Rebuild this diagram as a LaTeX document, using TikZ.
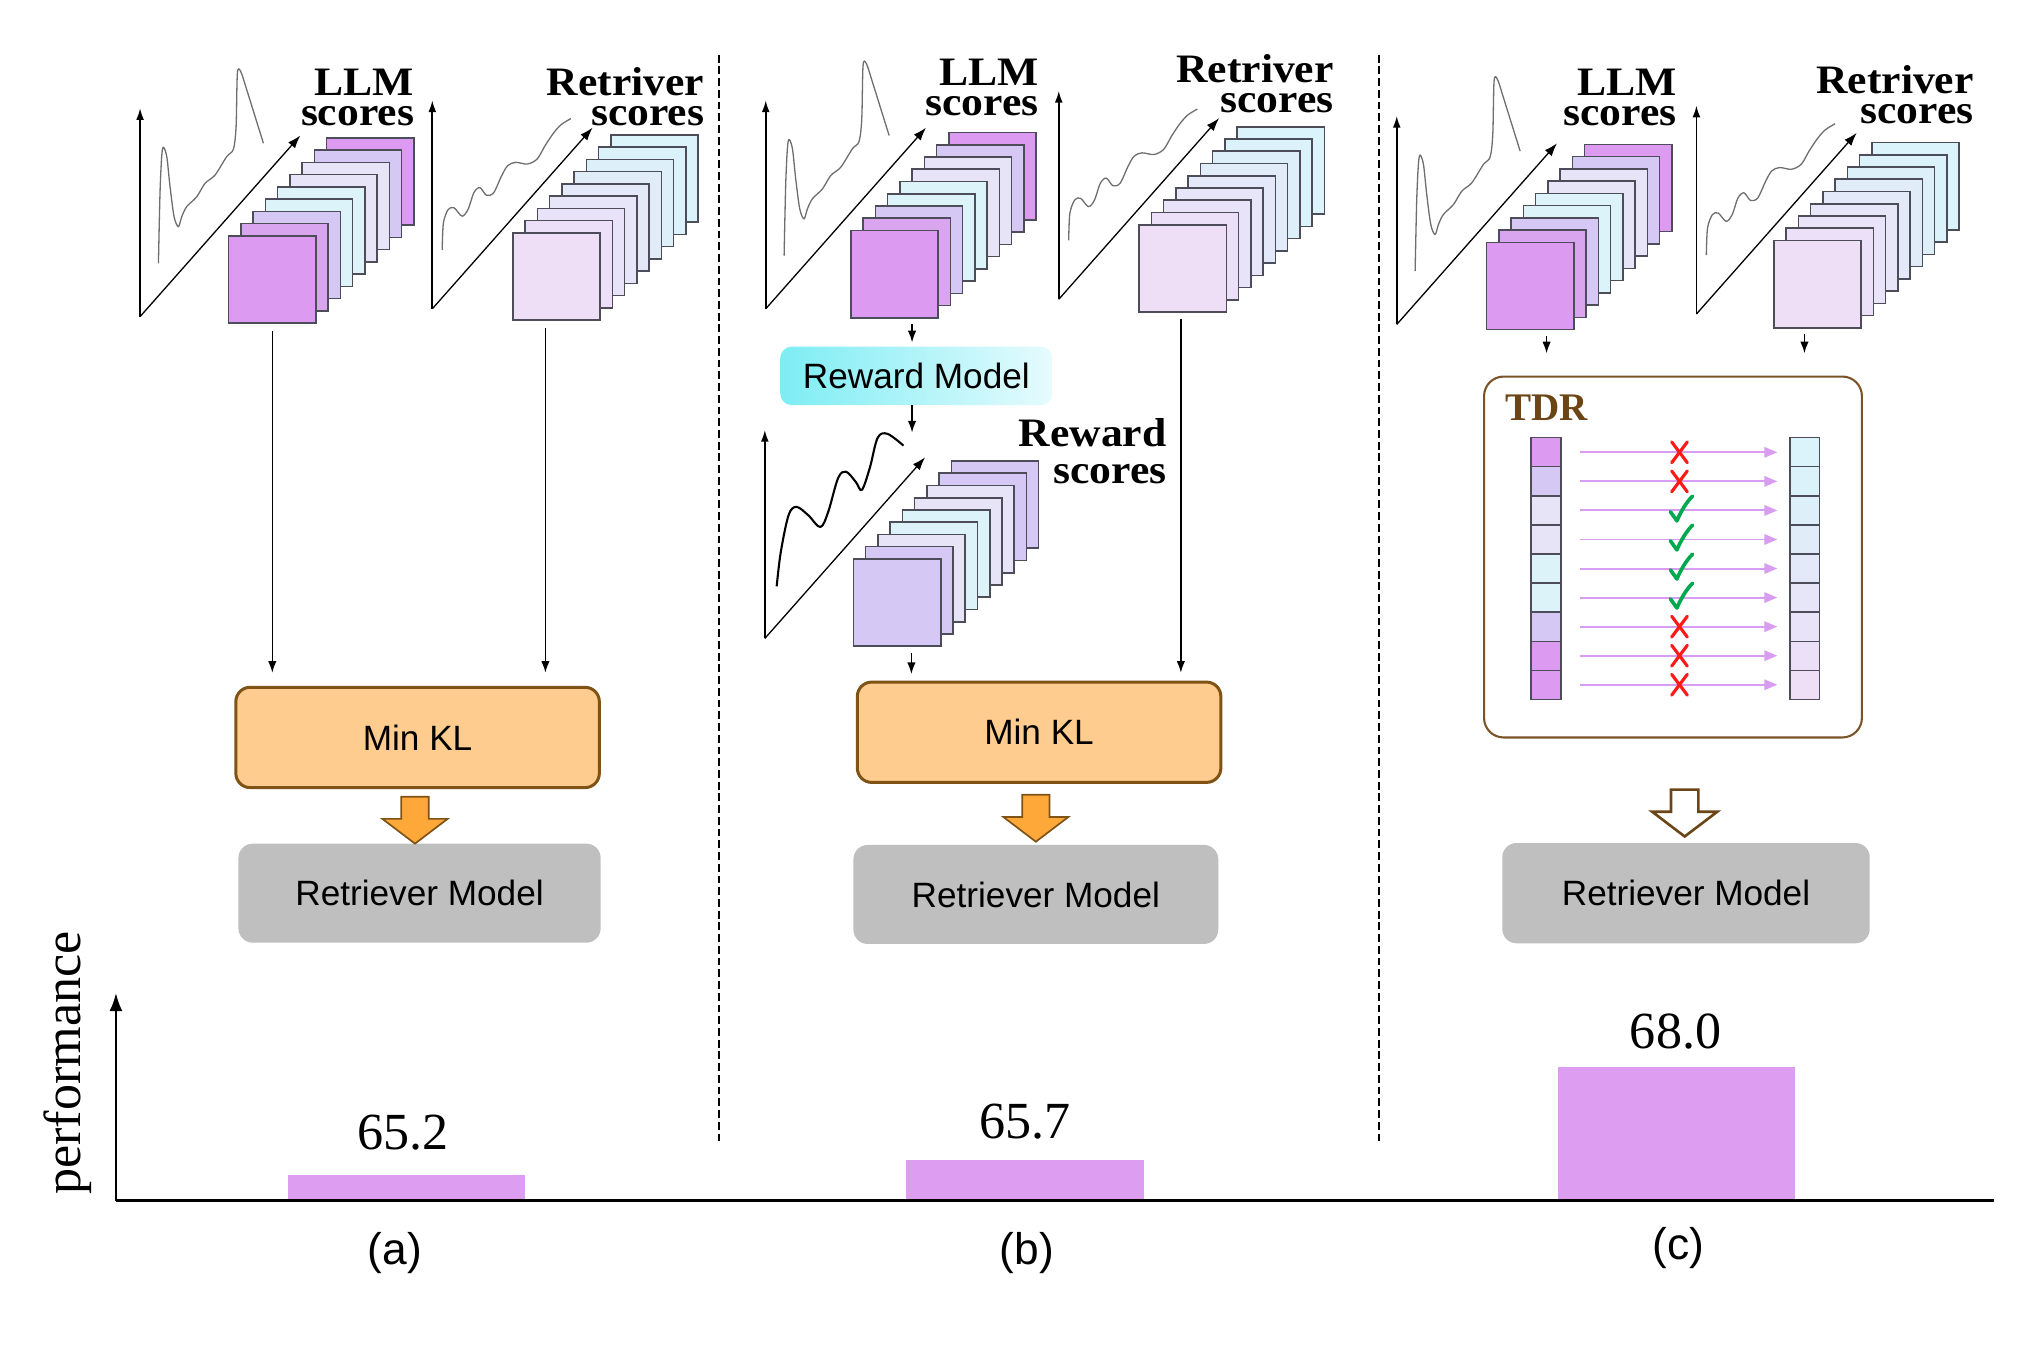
\documentclass[tikz,border=0pt]{standalone}
\usepackage{fontspec}
\setmainfont{Liberation Serif}
\setsansfont{Liberation Sans}
\newfontfamily\ttlfont[FakeStretch=1.08]{Liberation Serif}
\usetikzlibrary{arrows.meta,calc}

\definecolor{cPur}{HTML}{DC9BF0}
\definecolor{cPurB}{HTML}{D9A5EF}
\definecolor{cLav}{HTML}{D6C8F4}
\definecolor{cLLav}{HTML}{E8E4F8}
\definecolor{cCy}{HTML}{DCF3FA}
\definecolor{cRa}{HTML}{EEDEF6}
\definecolor{cRb}{HTML}{EBE0F7}
\definecolor{cRc}{HTML}{E8E3F8}
\definecolor{cRd}{HTML}{E6E6F8}
\definecolor{cRe}{HTML}{E3E9F8}
\definecolor{cRf}{HTML}{E0EDF9}
\definecolor{cRg}{HTML}{DDF0FA}
\definecolor{cRh}{HTML}{DCF2FA}
\definecolor{cRi}{HTML}{DBF3FA}
\definecolor{cSqB}{HTML}{4D4D5A}
\definecolor{cOrF}{HTML}{FFCC8F}
\definecolor{cOrB}{HTML}{7F5316}
\definecolor{cOrA}{HTML}{FFA83A}
\definecolor{cGray}{HTML}{BFBFBF}
\definecolor{cBrown}{HTML}{7A5428}
\definecolor{cTDR}{HTML}{6B4516}
\definecolor{cArr}{HTML}{D89CF0}
\definecolor{cRMl}{HTML}{7DEDF4}
\definecolor{cRMr}{HTML}{E6FBFD}
\definecolor{cRed}{HTML}{FF1A1A}
\definecolor{cGreen}{HTML}{00A850}
\definecolor{cCurve}{HTML}{6E6E6E}
\definecolor{cBar}{HTML}{DD9DF0}

\tikzset{
  sq/.style={draw=cSqB, line width=1.2pt, minimum width=67pt, minimum height=67pt, inner sep=0pt, outer sep=0pt, anchor=south west},
  chartaxis/.style={line width=1.3pt, -{Latex[length=9pt,width=6pt]}},
  chartdiag/.style={line width=1pt, -{Latex[length=10pt,width=7pt]}},
  gcurve/.style={cCurve, line width=1pt, line join=round},
  kcurve/.style={black, line width=1.6pt, line join=round},
  conn/.style={line width=1.2pt, -{Latex[length=9pt,width=6.5pt]}},
  ttl/.style={font=\ttlfont\bfseries\fontsize{31}{23}\selectfont, inner sep=0pt, anchor=north east, align=right},
  ttlwide/.style={font=\ttlfont\bfseries\fontsize{31}{28.5}\selectfont, inner sep=0pt, anchor=north east, align=right},
  sansbox/.style={font=\sffamily\fontsize{27}{30}\selectfont, inner sep=0pt, align=center},
  minkl/.style={sansbox, draw=cOrB, fill=cOrF, line width=2.3pt, rounded corners=11pt, minimum width=279pt, minimum height=77pt},
  retm/.style={sansbox, fill=cGray, rounded corners=11pt, minimum width=278pt, minimum height=76pt},
  rewm/.style={sansbox, left color=cRMl, right color=cRMr, rounded corners=9pt, minimum width=209pt, minimum height=45pt},
  tdrbox/.style={draw=cBrown, line width=1.6pt, fill=white, rounded corners=15pt, minimum width=290pt, minimum height=277pt, inner sep=0pt},
  cell/.style={draw=cSqB, line width=1pt, minimum width=23pt, minimum height=22.3pt, inner sep=0pt, outer sep=0pt},
  parrow/.style={cArr, line width=1.5pt, -{Triangle[length=10pt,width=8pt]}, shorten <=14.6pt, shorten >=9.6pt},
  crossmk/.style={cRed, line width=2.4pt, line cap=round},
  checkmk/.style={cGreen, line width=2.8pt, line cap=round, line join=round},
  orarrow/.style={fill=cOrA, draw=cOrB, line width=1.3pt, line join=miter},
  hollowarrow/.style={fill=white, draw=cTDR, line width=2pt, line join=miter},
  sepline/.style={line width=1.5pt, dash pattern=on 6pt off 3pt},
  baseaxis/.style={line width=2pt},
  barbox/.style={fill=cBar, inner sep=0pt, outer sep=0pt, anchor=south west},
  valtext/.style={font=\rmfamily\fontsize{40}{48}\selectfont, inner sep=0pt, anchor=base},
  subtext/.style={font=\sffamily\fontsize{34}{40}\selectfont, inner sep=0pt},
}

\newcommand\scorechart[2]{%
  \draw[chartaxis] (#1,#2) -- ++(0,-160);
  \draw[chartdiag] (#1,#2) -- ++(123,-139);}
\newcommand\llmcurve[2]{\draw[gcurve, shift={(#1,#2)}] plot[smooth,tension=0.5] coordinates {(14.1,-40.9) (15.3,-94.7) (16.6,-122.8) (17.9,-130) (20.5,-122.8) (23,-99.8) (26.1,-76.7) (29.4,-69) (32,-76.7) (35.8,-84.4) (43.5,-92) (49.9,-102.3) (57.6,-108.7) (66.5,-122.8) (71.6,-128.4) (73.7,-145.8) (74.7,-186.7) (77.3,-188) (81.9,-174) (88.3,-153.5) (94.7,-133)};}
\newcommand\retcurve[2]{\draw[gcurve, shift={(#1,#2)}] plot[smooth,tension=0.5] coordinates {(7.6,-45.2) (8.5,-65.9) (12.2,-76.2) (16.7,-77.5) (22.8,-71.1) (27.4,-76.2) (31.9,-89.1) (36.5,-93) (41.6,-87.1) (47.1,-89.1) (53.2,-102.1) (57.8,-109.8) (63.8,-112.4) (73,-111.1) (80.5,-115) (86.6,-125.3) (92.7,-134.4) (98.8,-141.3) (106.4,-146)};}
\newcommand\rewcurve[2]{\draw[kcurve, shift={(#1,#2)}] plot[smooth,tension=0.55] coordinates {(9.1,-40) (12.2,-66) (18.2,-94.5) (24.3,-101) (33.4,-94.5) (42.6,-85.5) (48.6,-97) (56.2,-123) (62.3,-128) (69.9,-120) (74.5,-114) (80.6,-131) (86.6,-154) (94.2,-157) (106.4,-148)};}
\newcommand\sqstack[4]{%
  \foreach \sqc [count=\sqi] in {#4} {%
    \pgfmathsetmacro\sqk{9-\sqi}%
    \node[sq, fill=\sqc] (#1-\sqi) at ({#2+\sqk*9.4},{#3-\sqk*9.4}) {};
  }}
\newcommand\blockarrow[3]{\draw[#1] ({#2-10.5},{#3}) -- ({#2+10.5},{#3}) -- ({#2+10.5},{#3+17}) -- ({#2+25},{#3+17}) -- ({#2},{#3+36}) -- ({#2-25},{#3+17}) -- ({#2-10.5},{#3+17}) -- cycle;}
\newcommand\xmk[2]{\draw[crossmk] ({#1-6},{#2-8}) -- ({#1+6},{#2+8}); \draw[crossmk] ({#1+6},{#2-8}) -- ({#1-6},{#2+8});}
\newcommand\cmk[2]{\draw[checkmk] ({#1-8},{#2+1}) -- ({#1-3},{#2+8}) .. controls ({#1},{#2+1}) and ({#1+4},{#2-6}) .. ({#1+9},{#2-11});}

\begin{document}
\begin{tikzpicture}[x=1pt,y=-1pt]
\useasboundingbox (0,0) rectangle (1568,1040);

% separators
\draw[sepline] (552,42) -- (552,877);
\draw[sepline] (1058,42) -- (1058,877);

% ---------- panel (a)
\scorechart{107.5}{243}
\llmcurve{107.5}{243}
\sqstack{llmA}{175.5}{248}{cPur,cLav,cLLav,cLLav,cCy,cCy,cLav,cPurB,cPur}
\node[ttl] (llmAt) at (318,52.7) {LLM\\scores};

\scorechart{331.8}{237}
\retcurve{331.8}{237}
\sqstack{retA}{393.6}{245.7}{cRi,cRh,cRg,cRf,cRe,cRd,cRc,cRb,cRa}
\node[ttl] (retAt) at (540.6,51.7) {Retriver\\scores};

\node[minkl] (mklA) at (320.5,566) {Min KL};
\node[retm] (rmA) at (322,685.5) {Retriever Model};
\blockarrow{orarrow}{318.5}{611.5}

\draw[conn, shorten <=6pt, shorten >=10pt] (llmA-9.south) -- (llmA-9.south |- mklA.north);
\coordinate (ra) at ($(retA-9.south)+(-8.5,0)$);
\draw[conn, shorten <=6pt, shorten >=10pt] (ra) -- (ra |- mklA.north);

% ---------- panel (b)
\scorechart{587.7}{237}
\llmcurve{587.7}{237}
\sqstack{llmB}{653}{243.9}{cPur,cLav,cLLav,cLLav,cCy,cCy,cLav,cPurB,cPur}
\node[ttl] (llmBt) at (797.4,45.3) {LLM\\scores};

\scorechart{812.6}{229.7}
\retcurve{812.6}{229.7}
\sqstack{retB}{874.3}{239.5}{cRi,cRh,cRg,cRf,cRe,cRd,cRc,cRb,cRa}
\node[ttl] (retBt) at (1023.8,41.4) {Retriver\\scores};

\node[rewm] (rwm) at (703.3,288.5) {Reward Model};

\scorechart{587}{490}
\rewcurve{587}{490}
\sqstack{rwd}{655}{496}{cLav,cLav,cLLav,cLLav,cCy,cCy,cLLav,cLav,cLav}
\node[ttlwide] (rwdt) at (895.5,321.2) {Reward\\scores};

\node[minkl] (mklB) at (797.5,562) {Min KL};
\node[retm, minimum width=280pt] (rmB) at (795,686.5) {Retriever Model};
\blockarrow{orarrow}{795}{610}

\coordinate (lb) at ($(llmB-9.south)+(13.5,0)$);
\draw[conn, shorten <=5pt, shorten >=3pt] (lb) -- (lb |- rwm.north);
\coordinate (rwend) at (700,332);
\draw[conn] (lb |- rwm.south) -- (rwend);
\coordinate (rb) at ($(rwd-9.south)+(11,0)$);
\draw[conn, shorten <=5pt, shorten >=5pt] (rb) -- (rb |- mklB.north);
\coordinate (tb) at ($(retB-9.south)+(-1.5,0)$);
\draw[conn, shorten <=5pt, shorten >=6pt] (tb) -- (tb |- mklB.north);

% ---------- panel (c)
\scorechart{1072}{249}
\llmcurve{1072}{249}
\sqstack{llmC}{1141}{253}{cPur,cLav,cLLav,cLLav,cCy,cCy,cLav,cPurB,cPur}
\node[ttl] (llmCt) at (1287,53) {LLM\\scores};

\scorechart{1302}{241}
\retcurve{1302}{241}
\sqstack{retC}{1361.4}{251.6}{cRi,cRh,cRg,cRf,cRe,cRd,cRc,cRb,cRa}
\node[ttl] (retCt) at (1515,50.4) {Retriver\\scores};

\node[tdrbox] (tdr) at (1284,427.5) {};
\node[font=\rmfamily\bfseries\fontsize{30}{30}\selectfont, text=cTDR, inner sep=0pt, anchor=base west] (tdrlab) at (1155,322.5) {TDR};

\foreach \cl [count=\i] in {cPur,cLav,cLLav,cLLav,cCy,cCy,cLav,cPur,cPur} {
  \pgfmathsetmacro\yy{336+22.3*(\i-0.5)}
  \node[cell, fill=\cl] (tl-\i) at (1186.5,\yy) {};
}
\foreach \cl [count=\i] in {cRi,cRh,cRg,cRf,cRe,cRd,cRc,cRb,cRa} {
  \pgfmathsetmacro\yy{336+22.3*(\i-0.5)}
  \node[cell, fill=\cl] (tr-\i) at (1385.2,\yy) {};
}
\foreach \i in {1,...,9} { \draw[parrow] (tl-\i.east) -- (tr-\i.west); }
\foreach \i in {1,2,7,8,9} { \pgfmathsetmacro\yy{336+22.3*(\i-0.5)} \xmk{1289}{\yy} }
\foreach \i in {3,4,5,6} { \pgfmathsetmacro\yy{336+22.3*(\i-0.5)} \cmk{1290}{\yy} }

\node[retm, minimum width=282pt, minimum height=77pt] (rmC) at (1294,685.5) {Retriever Model};
\blockarrow{hollowarrow}{1293}{606}

\coordinate (lc) at ($(llmC-9.south)+(12.5,0)$);
\draw[conn, shorten <=5pt, shorten >=17pt] (lc) -- (lc |- tdr.north);
\coordinate (tc) at ($(retC-9.south)+(-10,0)$);
\draw[conn, shorten <=5pt, shorten >=17pt] (tc) -- (tc |- tdr.north);

% ---------- performance chart
\node[barbox, minimum width=182pt, minimum height=19.5pt] (barA) at (221,921.5) {};
\node[barbox, minimum width=183pt, minimum height=31.5pt] (barB) at (695,921.5) {};
\node[barbox, minimum width=182pt, minimum height=102.5pt] (barC) at (1196,921.5) {};
\coordinate (O) at (89,921.5);
\coordinate (Ytip) at (89,762);
\coordinate (Xend) at (1530,921.5);
\draw[baseaxis, -{Latex[length=14pt,width=10pt]}] (O) -- (Ytip);
\draw[baseaxis] (O) -- (Xend);
\node[valtext] (vA) at (309,882.5) {65.2};
\node[valtext] (vB) at (787,873.5) {65.7};
\node[valtext] (vC) at (1286,805) {68.0};
\node[font=\rmfamily\fontsize{40}{48}\selectfont, rotate=90, inner sep=0pt] (perf) at (52,816) {performance};
\node[subtext] (la) at (303,962) {(a)};
\node[subtext] (lbl) at (788,962) {(b)};
\node[subtext] (lcl) at (1288,958) {(c)};
\end{tikzpicture}
\end{document}
